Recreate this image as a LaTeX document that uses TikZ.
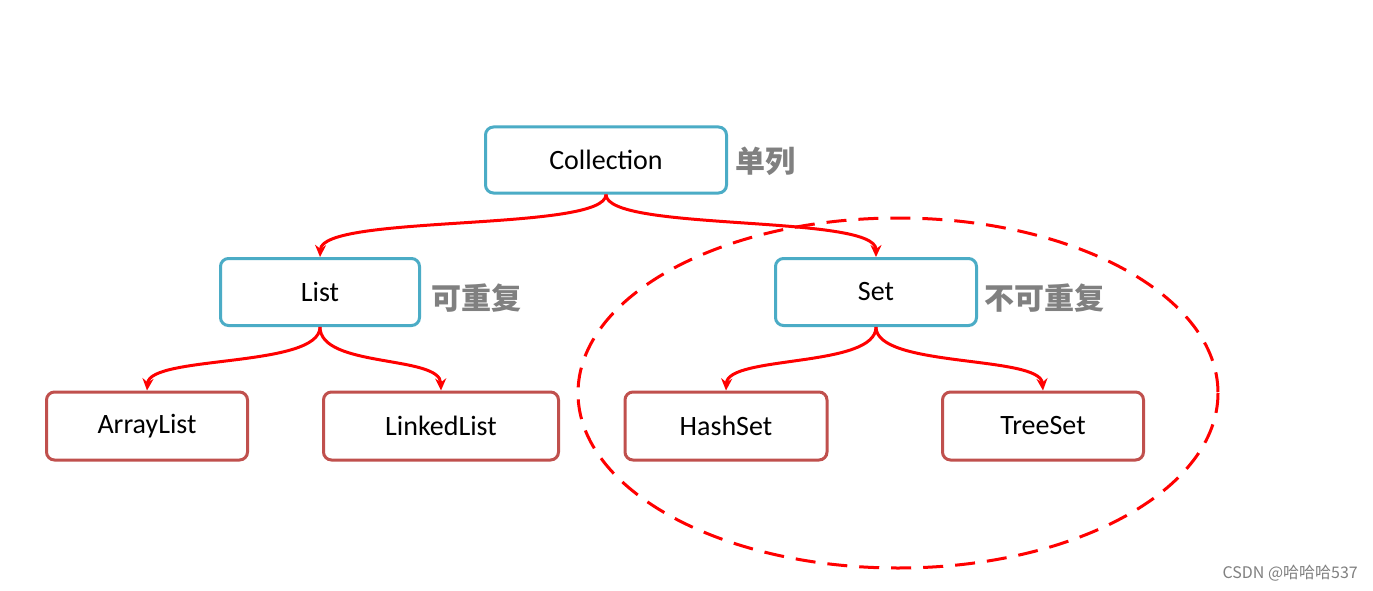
\documentclass[tikz,border=0pt]{standalone}
\usepackage{fontspec}
\setmainfont{Carlito}
\newfontfamily\cjk{Noto Sans CJK SC}
\usetikzlibrary{arrows.meta}
\definecolor{bblue}{RGB}{75,172,198}
\definecolor{bred}{RGB}{192,80,77}
\definecolor{lgray}{RGB}{128,128,128}
\tikzset{
  box/.style={draw, line width=3pt, rounded corners=8pt, font=\fontsize{28}{30}\selectfont, inner sep=0pt},
  topbox/.style={box, draw=bblue},
  leafbox/.style={box, draw=bred},
  note/.style={font=\cjk\bfseries\fontsize{30}{32}\selectfont, text=lgray, anchor=west, inner sep=0pt},
  conn/.style={red, line width=3pt, -{Stealth[length=12pt,width=11pt]}}
}
\begin{document}
\begin{tikzpicture}[x=1pt,y=-1pt]
\useasboundingbox (0,0) rectangle (1373,591);
\fill[white] (0,0) rectangle (1373,591);
\node[topbox, minimum width=241pt, minimum height=66pt] (col) at (606,160) {Collection};
\node[topbox, minimum width=199pt, minimum height=67pt] (list) at (320,292) {List};
\node[topbox, minimum width=201pt, minimum height=67pt] (set) at (876,292) {Set};
\node[leafbox, minimum width=201pt, minimum height=68pt] (al) at (147,426) {ArrayList};
\node[leafbox, minimum width=235pt, minimum height=68pt] (ll) at (441,426) {LinkedList};
\node[leafbox, minimum width=202pt, minimum height=68pt] (hs) at (726,426) {HashSet};
\node[leafbox, minimum width=201pt, minimum height=68pt] (ts) at (1043,426) {TreeSet};
\node[note] (n1) at (735,161) {单列};
\node[note] (n2) at (431,298) {可重复};
\node[note] (n3) at (984,298) {不可重复};
\draw[red, line width=3pt, dash pattern=on 20pt off 12pt] (898,393) ellipse [x radius=320, y radius=175];
\draw[conn] (col.south) .. controls (606,232) and (322,214) .. (list.north);
\draw[conn] (col.south) .. controls (606,232) and (876,214) .. (set.north);
\draw[conn] (list.south) .. controls (320,368) and (150,355) .. (al.north);
\draw[conn] (list.south) .. controls (320,368) and (440,355) .. (ll.north);
\draw[conn] (set.south) .. controls (876,368) and (728,355) .. (hs.north);
\draw[conn] (set.south) .. controls (876,368) and (1040,355) .. (ts.north);
\node[font=\fontsize{16}{18}\selectfont\cjk, text=lgray, anchor=east, inner sep=0pt] (wm) at (1358,573) {CSDN @哈哈哈537};
\end{tikzpicture}
\end{document}
